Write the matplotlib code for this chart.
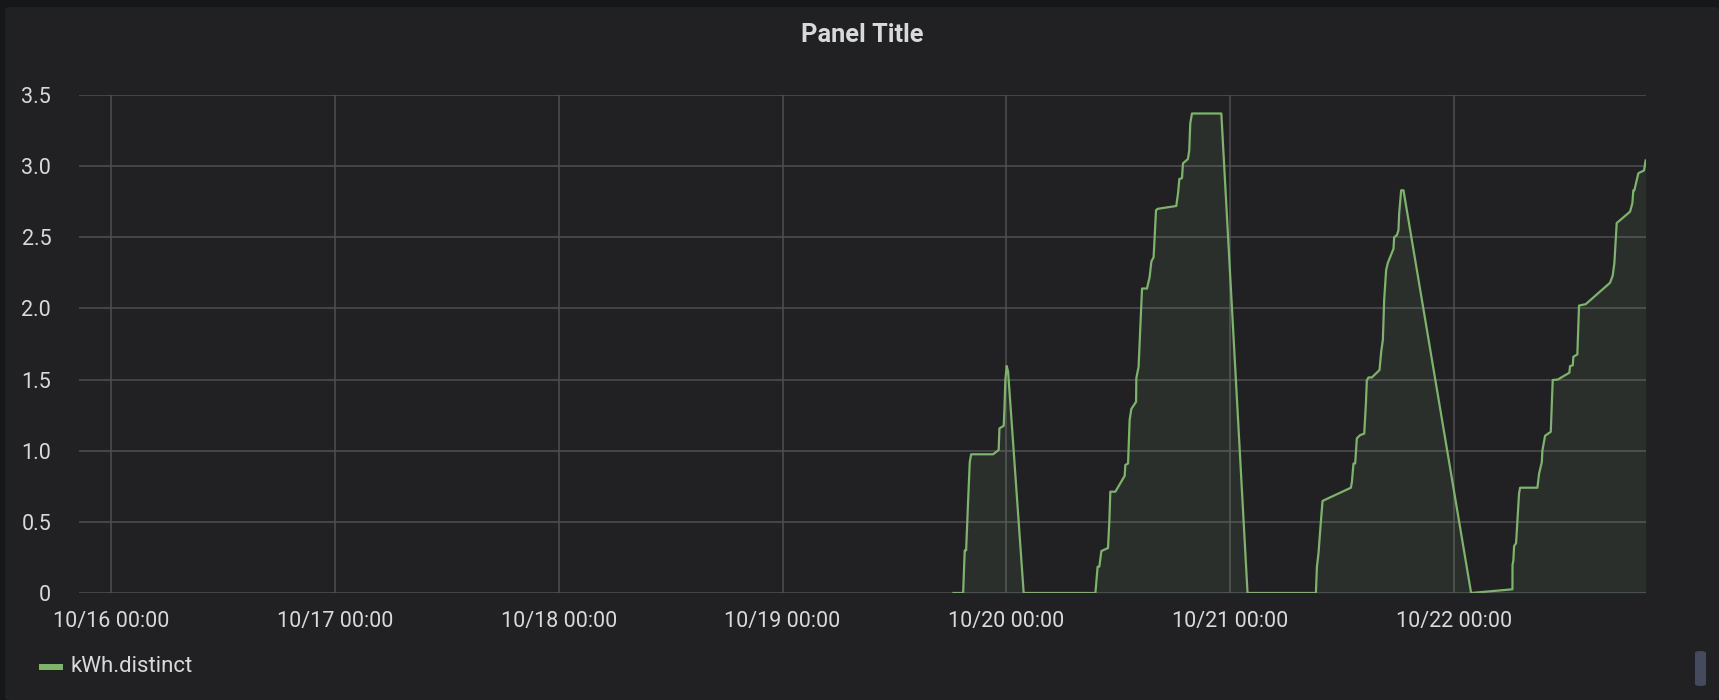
"""Grafana-style time series panel: kWh.distinct over one week."""

import matplotlib

matplotlib.use("Agg")
import matplotlib.pyplot as plt
import matplotlib.dates as mdates
from matplotlib.patches import FancyBboxPatch
import pandas as pd

# hours since 10/16 00:00 and the kWh value
hours = [
    90.32, 91.36, 91.53, 91.68, 91.90, 92.07, 92.22, 94.57, 95.17, 95.25,
    95.71, 95.79, 95.89, 96.03, 96.18, 97.85, 105.54,
    105.78, 105.96, 106.18, 106.89, 107.04, 107.14, 107.68, 108.68, 108.75,
    109.04, 109.21, 109.39, 109.90, 109.93, 110.17, 110.28, 110.54, 111.07,
    111.35, 111.54, 111.78, 111.89, 112.04, 112.21, 114.21, 114.40, 114.54,
    114.82, 114.93, 115.46, 115.60, 115.71, 115.89, 119.04, 121.85, 129.18,
    129.29, 129.46, 129.64, 129.89, 132.93, 133.04, 133.21, 133.39, 133.57,
    133.93, 134.36, 134.54, 134.64, 134.82, 135.18, 136.00, 136.18, 136.36,
    136.50, 136.71, 136.89, 137.50, 137.57, 137.86, 138.03, 138.11, 138.32,
    138.57, 145.82,
    150.25, 150.26, 150.35, 150.43, 150.64, 150.96, 151.07, 152.93, 153.11,
    153.40, 153.46, 153.75, 154.36, 154.57, 155.11, 156.35, 156.43, 156.72,
    156.78, 157.21, 157.39, 158.11, 160.71, 161.00, 161.18, 161.43, 162.86,
    163.11, 163.21, 163.32, 163.75, 164.36, 164.53,
]
kwh = [
    0.0, 0.0, 0.30, 0.30, 0.66, 0.92, 0.975, 0.975, 1.005, 1.157,
    1.175, 1.30, 1.50, 1.595, 1.555, 0.0, 0.0,
    0.185, 0.185, 0.295, 0.316, 0.513, 0.712, 0.712, 0.824, 0.90,
    0.91, 1.216, 1.293, 1.344, 1.51, 1.59, 1.755, 2.14, 2.14,
    2.22, 2.33, 2.36, 2.50, 2.69, 2.70, 2.72, 2.81, 2.91,
    2.915, 3.02, 3.05, 3.11, 3.30, 3.37, 3.37, 0.0, 0.0,
    0.185, 0.28, 0.44, 0.647, 0.74, 0.78, 0.91, 0.91, 1.087,
    1.11, 1.12, 1.33, 1.495, 1.515, 1.515, 1.567, 1.695, 1.78,
    2.06, 2.27, 2.32, 2.42, 2.50, 2.515, 2.55, 2.67, 2.83,
    2.83, 0.0,
    0.026, 0.197, 0.23, 0.33, 0.35, 0.70, 0.74, 0.74, 0.84,
    0.92, 1.0, 1.105, 1.133, 1.497, 1.50, 1.548, 1.595, 1.60,
    1.66, 1.677, 2.02, 2.03, 2.18, 2.23, 2.32, 2.60, 2.68,
    2.74, 2.83, 2.83, 2.95, 2.97, 3.04,
]
series_name = "kWh.distinct"
y_ticks = [0, 0.5, 1.0, 1.5, 2.0, 2.5, 3.0, 3.5]
y_tick_labels = ["0", "0.5", "1.0", "1.5", "2.0", "2.5", "3.0", "3.5"]

start = pd.Timestamp("2020-10-16 00:00")
window_end = start + pd.Timedelta(hours=164.57)
window_start = window_end - pd.Timedelta(days=7)

times = start + pd.to_timedelta(hours, unit="h")

PAGE_BG = "#161719"
PANEL_BG = "#212124"
GRID = "#4f4f52"
TEXT = "#d8d9da"
LINE = "#7eb26d"

plt.rcParams["font.family"] = ["Roboto", "DejaVu Sans"]

fig = plt.figure(figsize=(17.19, 7.0), dpi=100, facecolor=PAGE_BG)
panel = FancyBboxPatch(
    (0.003, 0.0), 0.997, 0.99, boxstyle="round,pad=0,rounding_size=0.004",
    transform=fig.transFigure, facecolor=PANEL_BG, edgecolor="none", zorder=-10,
)
fig.patches.append(panel)

ax = fig.add_axes([79 / 1719, 107 / 700, 1567 / 1719, 498 / 700])
ax.set_facecolor("none")
ax.plot(times, kwh, color=LINE, linewidth=1.6, zorder=3)
ax.fill_between(times, kwh, 0, color=LINE, alpha=0.1, linewidth=0, zorder=2)

ax.set_xlim(window_start, window_end)
ax.set_ylim(0, 3.5)
ax.set_yticks(y_ticks)
ax.set_yticklabels(y_tick_labels)
ax.xaxis.set_major_locator(mdates.DayLocator())
ax.xaxis.set_major_formatter(mdates.DateFormatter("%m/%d %H:%M"))

for spine in ax.spines.values():
    spine.set_visible(False)
ax.grid(True, color=GRID, linewidth=1.1, zorder=1)
ax.set_axisbelow(True)
ax.tick_params(axis="both", length=0, colors=TEXT, labelsize=15.5)
ax.tick_params(axis="y", pad=20)
ax.tick_params(axis="x", pad=13)

fig.text(862 / 1719, 1 - 35 / 700, "Panel Title", ha="center", va="center",
         color=TEXT, fontsize=18.3, fontweight="bold")

# legend
fig.patches.append(plt.Rectangle((39 / 1719, 1 - 670 / 700), 24 / 1719, 6 / 700,
                                 transform=fig.transFigure, facecolor=LINE,
                                 edgecolor="none"))
fig.text(70 / 1719, 1 - 667 / 700, series_name, ha="left", va="center",
         color=TEXT, fontsize=16)

# scrollbar thumb
fig.patches.append(FancyBboxPatch(
    (1695 / 1719, 1 - 686 / 700), 11 / 1719, 35 / 700,
    boxstyle="round,pad=0,rounding_size=0.003", transform=fig.transFigure,
    facecolor="#454a5c", edgecolor="none"))

fig.savefig("out.png", dpi=100, facecolor=PAGE_BG)
